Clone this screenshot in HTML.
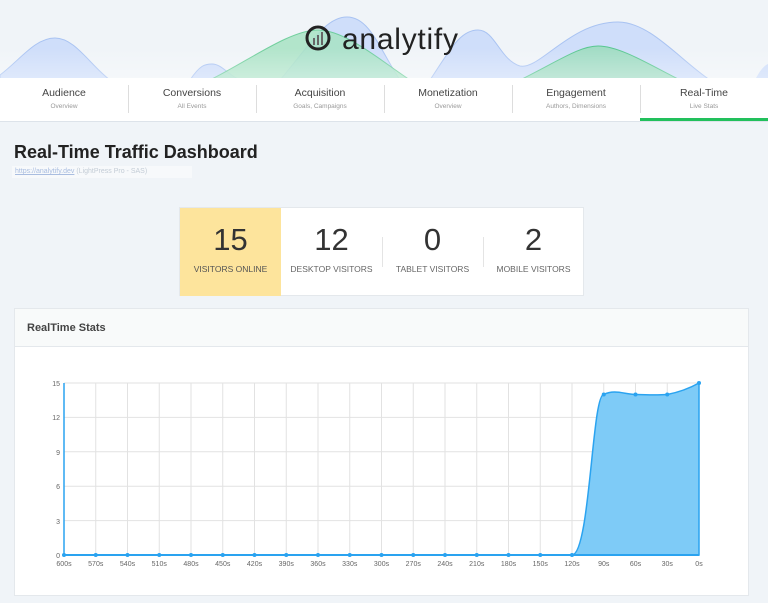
<!DOCTYPE html>
<html><head><meta charset="utf-8"><style>
*{margin:0;padding:0;box-sizing:border-box}
body{width:768px;height:603px;overflow:hidden;background:#f0f4f8;font-family:"Liberation Sans",sans-serif;position:relative}
.abs{position:absolute}
.nav{left:0;top:78px;width:768px;height:44px;background:#fff;border-bottom:1px solid #dde3ea;display:flex}
.tab{flex:1;text-align:center;position:relative;padding-top:9px}
.tab b{display:block;font-size:10.5px;font-weight:normal;color:#444}
.tab span{display:block;font-size:6.5px;color:#999;margin-top:4px}
.tab+.tab:before{content:"";position:absolute;left:0;top:7px;height:28px;border-left:1px solid #ddd}
.stat{position:absolute;top:0;width:101px;height:88px;text-align:center}
.stat .n{font-size:31px;color:#333;margin-top:14px}
.stat .l{font-size:8.5px;color:#666;margin-top:6px}
</style></head><body>
<svg class="abs" style="left:0;top:0" width="768" height="80">
<defs><linearGradient id="fade" x1="0" y1="0" x2="0" y2="1"><stop offset="0.6" stop-color="#fff" stop-opacity="0"/><stop offset="1" stop-color="#fff" stop-opacity="0.35"/></linearGradient></defs>
<path d="M0,75 C20,60 35,38 55,38 C75,38 90,65 110,80 L0,80Z" fill="#cfdefa" stroke="#a9c3f2"/>
<path d="M190,80 C200,65 205,64 212,64 C222,64 228,75 240,80Z" fill="#cfdefa" stroke="#a9c3f2"/>
<path d="M280,80 C310,45 325,17 347,17 C370,17 380,50 400,80Z" fill="#cfdefa" stroke="#a9c3f2"/>
<path d="M430,80 C450,50 460,30 478,30 C495,30 500,60 520,66 C540,70 570,22 618,22 C650,22 680,60 710,80Z" fill="#cfdefa" stroke="#a9c3f2"/>
<path d="M755,80 C760,70 765,65 768,64 L768,80Z" fill="#cfdefa"/>
<path d="M210,80 C250,60 290,30 318,30 C345,30 380,60 410,80Z" fill="#a8e3c4" opacity="0.85" stroke="#5cc98e"/>
<path d="M520,80 C560,60 580,46 598,46 C620,46 650,65 680,80Z" fill="#9edcc0" opacity="0.9" stroke="#4cc585"/>
<rect width="768" height="80" fill="url(#fade)"/>
<circle cx="318" cy="38" r="11" fill="none" stroke="#222" stroke-width="3"/>
<rect x="313" y="38" width="2" height="7" fill="#666"/><rect x="317" y="35" width="2" height="10" fill="#666"/><rect x="321" y="32" width="2" height="13" fill="#666"/>
<text x="342" y="49" font-family="Liberation Sans,sans-serif" font-size="30" fill="#222" textLength="116">analytify</text>
</svg>
<div class="abs nav">
<div class="tab"><b>Audience</b><span>Overview</span></div>
<div class="tab"><b>Conversions</b><span>All Events</span></div>
<div class="tab"><b>Acquisition</b><span>Goals, Campaigns</span></div>
<div class="tab"><b>Monetization</b><span>Overview</span></div>
<div class="tab"><b>Engagement</b><span>Authors, Dimensions</span></div>
<div class="tab"><b>Real-Time</b><span>Live Stats</span><i style="position:absolute;left:0;right:0;bottom:0;height:3px;background:#22c05c"></i></div>
</div>
<div class="abs" style="left:14px;top:142px;font-size:18px;font-weight:bold;color:#222">Real-Time Traffic Dashboard</div>
<div class="abs" style="left:12px;top:166px;width:180px;height:12px;background:#f7f9fb;font-size:7px;color:#c3ccd6;padding-left:3px;line-height:12px"><u style="color:#a9bde0">https://analytify.dev</u> (LightPress Pro - SAS)</div>
<div class="abs" style="left:179px;top:207px;width:405px;height:89px;background:#fff;border:1px solid #e4e8ec">
<div class="stat" style="left:0;background:#fde49c"><div class="n">15</div><div class="l" style="color:#555">VISITORS ONLINE</div></div>
<div class="stat" style="left:101px"><div class="n">12</div><div class="l">DESKTOP VISITORS</div></div>
<div class="stat" style="left:202px;border-left:1px solid #e4e4e4;top:29px;height:30px"></div>
<div class="stat" style="left:202px"><div class="n">0</div><div class="l">TABLET VISITORS</div></div>
<div class="stat" style="left:303px;border-left:1px solid #e4e4e4;top:29px;height:30px"></div>
<div class="stat" style="left:303px"><div class="n">2</div><div class="l">MOBILE VISITORS</div></div>
</div>
<div class="abs" style="left:14px;top:308px;width:735px;height:288px;background:#fff;border:1px solid #e4e8ec">
<div style="height:38px;background:#f8fafa;border-bottom:1px solid #e4e8ec;font-size:11px;font-weight:bold;color:#444;padding:13px 0 0 12px">RealTime Stats</div>
</div>
<svg class="abs" style="left:0;top:0" width="768" height="603" font-family="Liberation Sans,sans-serif" font-size="7" fill="#666">
<g stroke="#e2e2e2" stroke-width="1">
<line x1="64" y1="383" x2="699" y2="383"/><line x1="64" y1="417.4" x2="699" y2="417.4"/><line x1="64" y1="451.8" x2="699" y2="451.8"/><line x1="64" y1="486.2" x2="699" y2="486.2"/><line x1="64" y1="520.6" x2="699" y2="520.6"/>
</g>
<g stroke="#e2e2e2">
<line x1="95.75" y1="383" x2="95.75" y2="555"/><line x1="127.5" y1="383" x2="127.5" y2="555"/><line x1="159.25" y1="383" x2="159.25" y2="555"/><line x1="191" y1="383" x2="191" y2="555"/><line x1="222.75" y1="383" x2="222.75" y2="555"/><line x1="254.5" y1="383" x2="254.5" y2="555"/><line x1="286.25" y1="383" x2="286.25" y2="555"/><line x1="318" y1="383" x2="318" y2="555"/><line x1="349.75" y1="383" x2="349.75" y2="555"/><line x1="381.5" y1="383" x2="381.5" y2="555"/><line x1="413.25" y1="383" x2="413.25" y2="555"/><line x1="445" y1="383" x2="445" y2="555"/><line x1="476.75" y1="383" x2="476.75" y2="555"/><line x1="508.5" y1="383" x2="508.5" y2="555"/><line x1="540.25" y1="383" x2="540.25" y2="555"/><line x1="572" y1="383" x2="572" y2="555"/><line x1="603.75" y1="383" x2="603.75" y2="555"/><line x1="635.5" y1="383" x2="635.5" y2="555"/><line x1="667.25" y1="383" x2="667.25" y2="555"/><line x1="699" y1="383" x2="699" y2="555"/>
</g>
<path d="M64,555 L572,555 C590,555 592,394 603.75,394.5 C615,389 625,394.5 635.5,394.5 C650,395 660,395 667.25,394.5 C680,392 690,388 699,383 L699,555Z" fill="#7ecbf7" stroke="#2aa3f0" stroke-width="1.5"/>
<line x1="64" y1="383" x2="64" y2="555" stroke="#2aa3f0" stroke-width="1.5"/>
<line x1="64" y1="555" x2="699" y2="555" stroke="#2aa3f0" stroke-width="2"/>
<g fill="#2aa3f0">
<circle cx="64" cy="555" r="2"/><circle cx="95.75" cy="555" r="2"/><circle cx="127.5" cy="555" r="2"/><circle cx="159.25" cy="555" r="2"/><circle cx="191" cy="555" r="2"/><circle cx="222.75" cy="555" r="2"/><circle cx="254.5" cy="555" r="2"/><circle cx="286.25" cy="555" r="2"/><circle cx="318" cy="555" r="2"/><circle cx="349.75" cy="555" r="2"/><circle cx="381.5" cy="555" r="2"/><circle cx="413.25" cy="555" r="2"/><circle cx="445" cy="555" r="2"/><circle cx="476.75" cy="555" r="2"/><circle cx="508.5" cy="555" r="2"/><circle cx="540.25" cy="555" r="2"/><circle cx="572" cy="555" r="2"/><circle cx="603.75" cy="394.5" r="2"/><circle cx="635.5" cy="394.5" r="2"/><circle cx="667.25" cy="394.5" r="2"/><circle cx="699" cy="383" r="2"/>
</g>
<g text-anchor="end"><text x="60" y="386">15</text><text x="60" y="420">12</text><text x="60" y="455">9</text><text x="60" y="489">6</text><text x="60" y="524">3</text><text x="60" y="558">0</text></g>
<g text-anchor="middle"><text x="64" y="566">600s</text><text x="95.75" y="566">570s</text><text x="127.5" y="566">540s</text><text x="159.25" y="566">510s</text><text x="191" y="566">480s</text><text x="222.75" y="566">450s</text><text x="254.5" y="566">420s</text><text x="286.25" y="566">390s</text><text x="318" y="566">360s</text><text x="349.75" y="566">330s</text><text x="381.5" y="566">300s</text><text x="413.25" y="566">270s</text><text x="445" y="566">240s</text><text x="476.75" y="566">210s</text><text x="508.5" y="566">180s</text><text x="540.25" y="566">150s</text><text x="572" y="566">120s</text><text x="603.75" y="566">90s</text><text x="635.5" y="566">60s</text><text x="667.25" y="566">30s</text><text x="699" y="566">0s</text></g>
</svg>
</body></html>
